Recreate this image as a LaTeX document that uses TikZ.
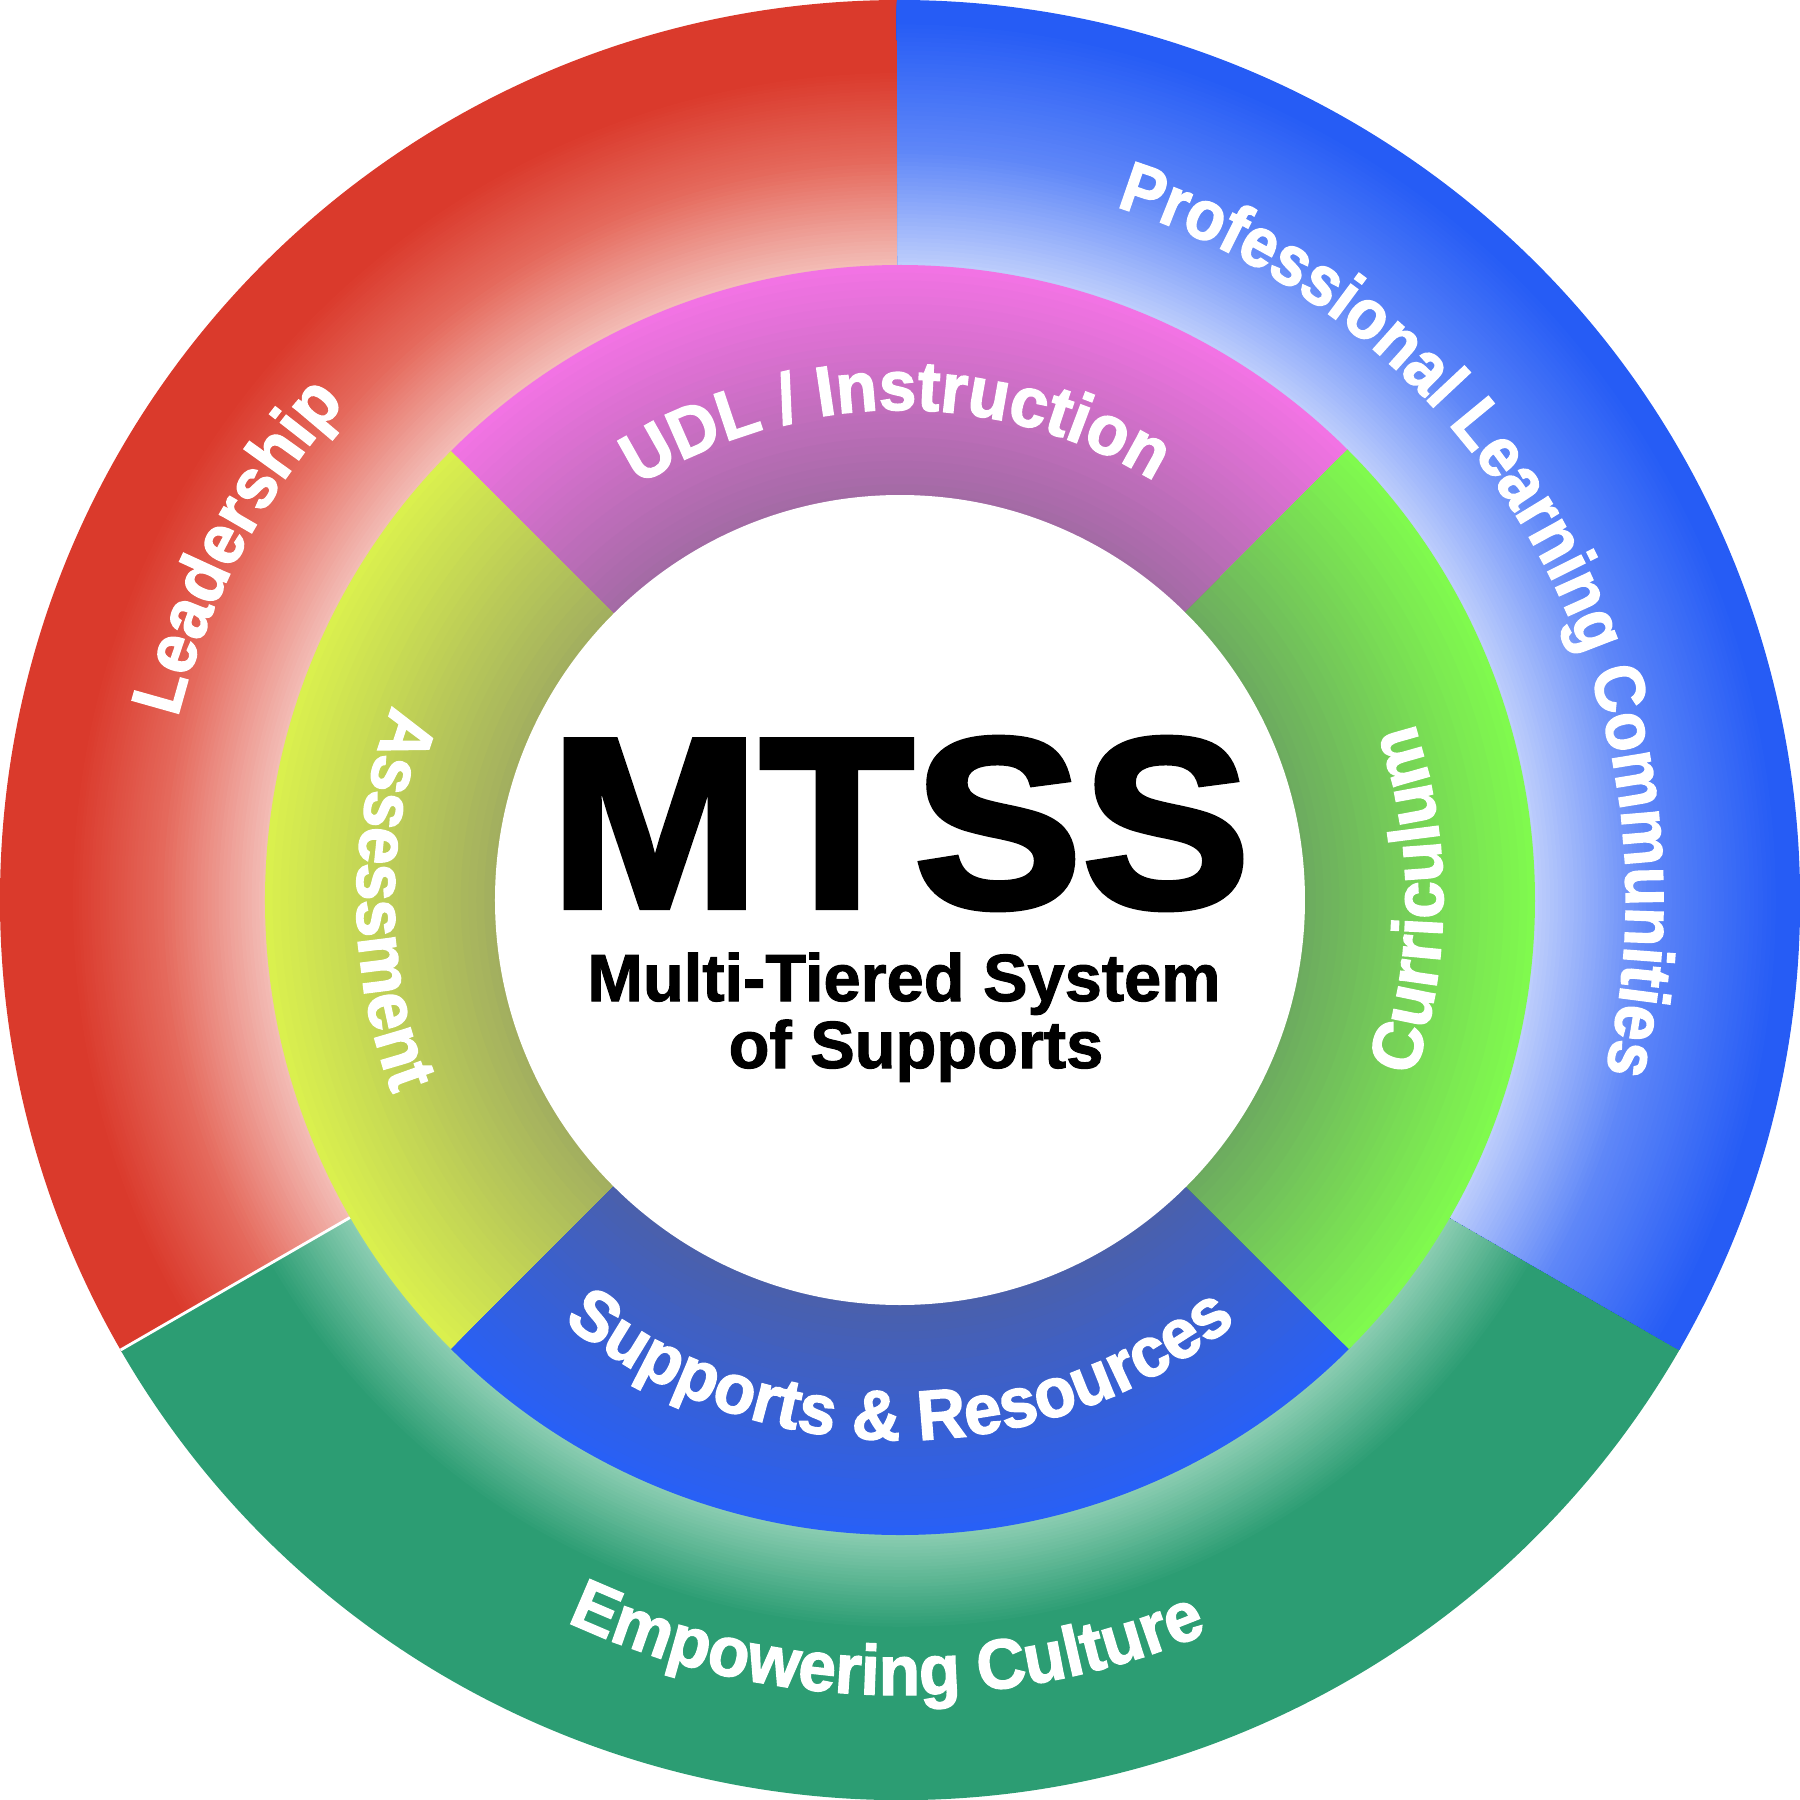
\documentclass[tikz,border=0pt]{standalone}
\usepackage{fontspec}
\setmainfont{Liberation Sans}
\newfontfamily\ringfont{Liberation Sans}[FakeStretch=0.96, BoldFeatures={FakeBold=2}]
\newfontfamily\plcfont{Liberation Sans}[FakeStretch=0.91, BoldFeatures={FakeBold=2}]
\newfontfamily\hubfont{Liberation Sans}[FakeStretch=1.04, BoldFeatures={FakeBold=2.5}]
\newfontfamily\subfont{Liberation Sans}[BoldFeatures={FakeBold=1.5}]
\usetikzlibrary{decorations.text}
\newcommand\ringlabel{\ringfont\bfseries\fontsize{20}{20}\selectfont\color{white}}
\newcommand\plclabel{\plcfont\bfseries\fontsize{20}{20}\selectfont\color{white}}

% outer ring colours
\definecolor{leadout}{RGB}{218,58,44}
\definecolor{leadmid}{RGB}{229,105,92}
\definecolor{leadin}{RGB}{244,194,188}
\definecolor{plcout}{RGB}{38,92,245}
\definecolor{plcmid}{RGB}{95,135,248}
\definecolor{plcin}{RGB}{195,210,252}
\definecolor{cultout}{RGB}{44,157,115}
\definecolor{cultin}{RGB}{145,208,182}
% middle ring colours
\definecolor{udlout}{RGB}{242,115,228}
\definecolor{udlin}{RGB}{160,106,162}
\definecolor{assessout}{RGB}{218,240,78}
\definecolor{assessin}{RGB}{160,172,96}
\definecolor{suppout}{RGB}{40,96,246}
\definecolor{suppin}{RGB}{76,96,168}
\definecolor{currout}{RGB}{128,250,78}
\definecolor{currin}{RGB}{108,168,96}

% one radial band of a sector: angles, outer and inner radius, outer and inner colour
\newcommand\ringband[6]{%
  \foreach \k in {0,...,30}{%
    \pgfmathsetmacro\bandr{#3-(#3-#4)*\k/30}%
    \pgfmathtruncatemacro\bandpc{100-100*\k/30}%
    \fill[#5!\bandpc!#6] (0,0) -- (#1:\bandr) arc[start angle=#1, end angle=#2, radius=\bandr] -- cycle;
  }}

\tikzset{
  ringtext/.style={decorate, decoration={text along path, text align=center, text={|\ringlabel|#1}}},
  plctext/.style={decorate, decoration={text along path, text align=center, text={|\plclabel|#1}}},
  hubtitle/.style={font=\hubfont\bfseries\fontsize{69}{69}\selectfont, inner sep=0pt, anchor=base},
  hubsub/.style={font=\subfont\bfseries\fontsize{19}{19}\selectfont, inner sep=0pt, anchor=base}
}

\begin{document}
\begin{tikzpicture}
\useasboundingbox (-9,-9) rectangle (9,9);
% outer ring
\ringband{90}{210.2}{9}{8.3}{leadout}{leadout}
\ringband{90}{210.2}{8.3}{7.4}{leadout}{leadmid}
\ringband{90}{210.2}{7.4}{6.3}{leadmid}{leadin}
\ringband{210}{330.2}{9}{7.3}{cultout}{cultout}
\ringband{210}{330.2}{7.3}{6.3}{cultout}{cultin}
\ringband{-30}{90.2}{9}{8.8}{plcout}{plcout}
\ringband{-30}{90.2}{8.8}{7.5}{plcout}{plcmid}
\ringband{-30}{90.2}{7.5}{6.3}{plcmid}{plcin}
\draw[white, line width=0.8pt] (210:6.35) -- (210:9);
% middle ring
\ringband{45}{135.2}{6.35}{4.0}{udlout}{udlin}
\ringband{135}{225.2}{6.35}{4.0}{assessout}{assessin}
\ringband{225}{315.2}{6.35}{4.0}{suppout}{suppin}
\ringband{-45}{45.2}{6.35}{4.0}{currout}{currin}
\node[circle, fill=white, minimum size=8.1cm, inner sep=0pt] (hub) at (0,0) {};

% labels on the rings
\path[ringtext={UDL / Instruction}] (150.5:4.9) arc[start angle=150.5, end angle=30.5, radius=4.9];
\path[ringtext={Assessment}] (130:5.43) arc[start angle=130, end angle=230, radius=5.43];
\path[ringtext={Supports {\&} Resources}] (210:5.4) arc[start angle=210, end angle=330, radius=5.4];
\path[ringtext={Curriculum}] (-50:5.43) arc[start angle=-50, end angle=50, radius=5.43];
\path[ringtext={Leadership}] (182:7.45) arc[start angle=182, end angle=122, radius=7.45];
\path[plctext={Professional Learning Communities}] (99.5:7.26) arc[start angle=99.5, end angle=-40.5, radius=7.26];
\path[ringtext={Empowering Culture}] (219:7.95) arc[start angle=219, end angle=319, radius=7.95];

% centre
\node[hubtitle] (mtss) at (0,-0.07) {MTSS};
\node[hubsub] (mtsslong) at (0.04,-1.01) {Multi-Tiered System};
\node[hubsub] (mtssof) at (0.16,-1.68) {of Supports};
\end{tikzpicture}
\end{document}
